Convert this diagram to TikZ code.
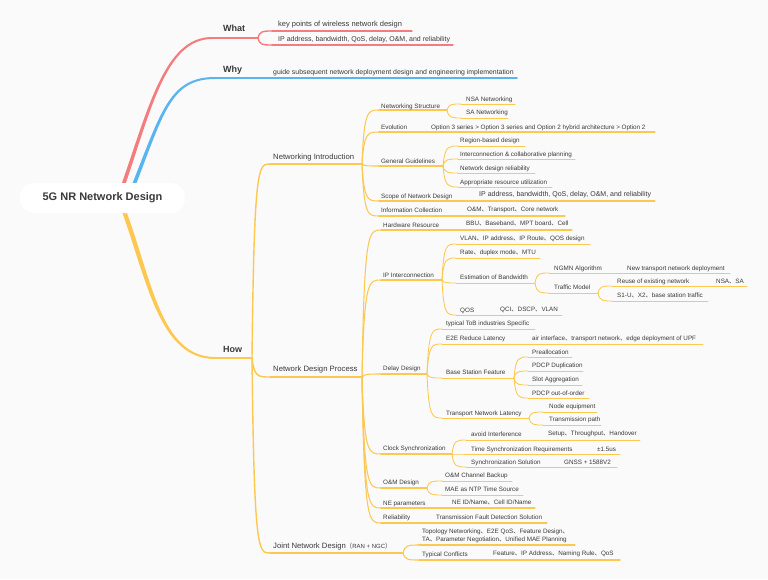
\documentclass[tikz,border=0pt]{standalone}
\usepackage{fontspec}
\setmainfont{Liberation Sans}
\newfontfamily\cjk{Noto Sans CJK SC}
\usetikzlibrary{calc}
\definecolor{bgc}{HTML}{FAFAFA}
\definecolor{redb}{HTML}{F47C7C}
\definecolor{blueb}{HTML}{5AB4F0}
\definecolor{yelb}{HTML}{FDC850}
\definecolor{txtc}{HTML}{3A3A3A}
\colorlet{branch}{yelb}
\newcommand\dn{{\cjk 、}}
\newcommand\conn[3][]{\draw[draw=branch,#1] let \p1=(#2), \p2=(#3) in (\p1) .. controls ({\x1+0.12*(\x2-\x1)},\y2) and ({\x1+0.35*(\x2-\x1)},\y2) .. (\p2);}
\newcommand\topic[9]{%
  \coordinate (#1-s) at (#4,#6);
  \coordinate (#1-e) at (#5,#6);
  \draw[#2] (#1-s) -- (#1-e);
  \node[#3] (#1) at (#7,#8) {#9};}
\tikzset{
  lbase/.style={draw=branch, line cap=round},
  lna/.style={lbase, line width=1.4pt},
  lnb/.style={lbase, line width=1.05pt},
  lnc/.style={lbase, line width=0.85pt},
  tbase/.style={anchor=base west, inner sep=0pt, text=txtc},
  txa/.style={tbase, font=\fontsize{7.7}{9}\selectfont, yshift=-2.6pt},
  txb/.style={tbase, font=\fontsize{6.3}{7.5}\selectfont, yshift=-2.2pt},
  txw/.style={tbase, font=\fontsize{7}{8}\selectfont, yshift=-2.4pt},
  txl/.style={tbase, font=\bfseries\fontsize{9}{11}\selectfont, yshift=-3.2pt},
  rootbox/.style={fill=white, rounded corners=14pt, minimum width=165pt, minimum height=30pt, inner sep=0pt, text=txtc, font=\bfseries\fontsize{11}{13}\selectfont},
}
\begin{document}
\begin{tikzpicture}[x=1pt,y=-1pt]
\useasboundingbox (0,0) rectangle (768,579);
\fill[bgc] (0,0) rectangle (768,579);

\coordinate (what-c) at (212,38);
\coordinate (what-e) at (258,38);
\coordinate (why-c) at (215,78);
\coordinate (why-e) at (517,78);
\coordinate (how-c) at (215,358);
\coordinate (how-e) at (252,358);

% main branches (tapered)
\fill[redb] (120.5,187) .. controls (148,110) and (164,37) .. (212,37) -- (212,39) .. controls (166,39) and (151,110) .. (124.5,187) -- cycle;
\draw[redb, line width=2pt, line cap=round] (what-c) -- (what-e);
\fill[blueb] (131,187) .. controls (161,112) and (169,77) .. (215,77) -- (215,79) .. controls (171,79) and (164,112) .. (135,187) -- cycle;
\draw[blueb, line width=1.7pt, line cap=round] (why-c) -- (why-e);
\fill[yelb] (121,209) .. controls (147,280) and (159,359) .. (215,359) -- (215,357) .. controls (161,357) and (152,280) .. (125.5,209) -- cycle;
\draw[yelb, line width=2pt, line cap=round] (how-c) -- (how-e);

\node[rootbox] (root) at (102.5,198) {5G NR Network Design};

\node[txl] (what) at (223,28) {What};
\node[txl] (why) at (223,69) {Why};
\node[txl] (how) at (223,349) {How};

% What
\begin{scope}
\colorlet{branch}{redb}
\topic{wa}{lna}{txw}{272}{412}{31}{278}{24}{\fontsize{7.5}{9}\selectfont key points of wireless network design}
\topic{wb}{lna}{txw}{272}{453}{45}{278}{39}{IP address, bandwidth, QoS, delay, O\&M, and reliability}
\conn[lna]{what-e}{wa-s}
\conn[lna]{what-e}{wb-s}
\end{scope}

% Why
\node[txw, font=\fontsize{6.9}{8}\selectfont] (whyt) at (273,72) {guide subsequent network deployment design and engineering implementation};

% How level 2
\topic{ni}{lna}{txa}{270}{362}{164}{273}{157}{Networking Introduction}
\topic{ndp}{lna}{txa}{270}{362}{377}{273}{369}{Network Design Process}
\topic{jn}{lna}{txa}{270}{403}{553}{273}{546}{Joint Network Design{\cjk\fontsize{6.3}{7}\selectfont （}{\fontsize{6}{7}\selectfont RAN + NGC}{\cjk\fontsize{6.3}{7}\selectfont ）}}
\conn[lna]{how-e}{ni-s}
\conn[lna]{how-e}{ndp-s}
\conn[lna]{how-e}{jn-s}

% Networking Introduction
\topic{ns}{lnb}{txb}{379}{447}{110}{381}{106}{Networking Structure}
\topic{nsa}{lnc}{txb}{461}{515}{104}{466}{99}{NSA Networking}
\topic{sa}{lnc}{txb}{461}{508}{118}{466}{112}{SA Networking}
\topic{evo}{lnb}{txb}{379}{655}{132}{381}{127}{Evolution}
\node[txb] (evox) at (431,127) {Option 3 series > Option 3 series and Option 2 hybrid architecture > Option 2};
\topic{gg}{lnb}{txb}{379}{443}{166}{381}{161}{General Guidelines}
\topic{gga}{lnc}{txb}{458}{525}{146}{460}{140}{Region-based design}
\topic{ggb}{lnc}{txb}{458}{575}{159}{460}{154}{Interconnection \& collaborative planning}
\topic{ggc}{lnc}{txb}{458}{535}{173}{460}{168}{Network design reliability}
\topic{ggd}{lnc}{txb}{458}{552}{187}{460}{182}{Appropriate resource utilization}
\topic{sc}{lnb}{txb}{379}{655}{201}{381}{196}{Scope of Network Design}
\node[txw] (scx) at (479,194) {IP address, bandwidth, QoS, delay, O\&M, and reliability};
\topic{ic}{lnb}{txb}{379}{565}{216}{381}{210}{Information Collection}
\node[txb] (icx) at (467,209) {O\&M\dn Transport\dn Core network};
\conn[lnb]{ni-e}{ns-s}
\conn[lnb]{ni-e}{evo-s}
\conn[lnb]{ni-e}{gg-s}
\conn[lnb]{ni-e}{sc-s}
\conn[lnb]{ni-e}{ic-s}
\conn[lnc]{ns-e}{nsa-s}
\conn[lnc]{ns-e}{sa-s}
\conn[lnc]{gg-e}{gga-s}
\conn[lnc]{gg-e}{ggb-s}
\conn[lnc]{gg-e}{ggc-s}
\conn[lnc]{gg-e}{ggd-s}

% Network Design Process
\topic{hw}{lnb}{txb}{381}{572}{230}{383}{225}{Hardware Resource}
\node[txb] (hwx) at (466,223) {BBU\dn Baseband\dn MPT board\dn Cell};
\topic{ip}{lnb}{txb}{381}{442}{280}{383}{275}{IP Interconnection}
\topic{ipa}{lnc}{txb}{456}{590}{244}{460}{238}{VLAN\dn IP address\dn IP Route\dn QOS design}
\topic{ipb}{lnc}{txb}{456}{540}{258}{460}{252}{Rate\dn duplex mode\dn MTU}
\topic{bw}{lnc}{txb}{456}{535}{283}{460}{277}{Estimation of Bandwidth}
\topic{ngmn}{lnc}{txb}{549}{730}{273}{554}{268}{NGMN Algorithm}
\node[txb] (ngmnx) at (627,268) {New transport network deployment};
\topic{tm}{lnc}{txb}{549}{598}{293}{554}{287}{Traffic Model}
\topic{reu}{lnc}{txb}{612}{747}{286}{617}{281}{Reuse of existing network}
\node[txb] (reux) at (716,281) {NSA\dn SA};
\topic{s1u}{lnc}{txb}{612}{708}{301}{617}{295}{S1-U\dn X2\dn base station traffic}
\topic{qos}{lnc}{txb}{456}{562}{315}{460}{310}{QOS}
\node[txb] (qosx) at (500,309) {QCI\dn DSCP\dn VLAN};

\topic{dd}{lnb}{txb}{381}{427}{374}{383}{368}{Delay Design}
\topic{tob}{lnc}{txb}{442}{535}{329}{446}{323}{typical ToB industries Specific}
\topic{e2e}{lnc}{txb}{442}{703}{344}{446}{338}{E2E Reduce Latency}
\node[txb] (e2ex) at (532,338) {air interface\dn transport network\dn edge deployment of UPF};
\topic{bsf}{lnc}{txb}{442}{514}{378}{446}{372}{Base Station Feature}
\topic{pre}{lnc}{txb}{528}{572}{357}{532}{352}{Preallocation}
\topic{pdcp}{lnc}{txb}{528}{583}{371}{532}{365}{PDCP Duplication}
\topic{slot}{lnc}{txb}{528}{582}{385}{532}{379}{Slot Aggregation}
\topic{ooo}{lnc}{txb}{528}{589}{398}{532}{393}{PDCP out-of-order}
\topic{tnl}{lnc}{txb}{442}{529}{418}{446}{413}{Transport Network Latency}
\topic{ndq}{lnc}{txb}{543}{597}{412}{549}{406}{Node equipment}
\topic{tp}{lnc}{txb}{543}{601}{425}{549}{419}{Transmission path}

\topic{clk}{lnb}{txb}{381}{452}{454}{383}{448}{Clock Synchronization}
\topic{ai}{lnc}{txb}{466}{640}{440}{471}{434}{avoid Interference}
\node[txb] (aix) at (548,433) {Setup\dn Throughput\dn Handover};
\topic{tsr}{lnc}{txb}{466}{620}{454}{471}{449}{Time Synchronization Requirements}
\node[txb] (tsrx) at (597,449) {±1.5us};
\topic{ss}{lnc}{txb}{466}{617}{467}{471}{462}{Synchronization Solution}
\node[txb] (ssx) at (564,462) {GNSS + 1588V2};

\topic{om}{lnb}{txb}{381}{427}{488}{383}{482}{O\&M Design}
\topic{omc}{lnc}{txb}{442}{512}{481}{445}{475}{O\&M Channel Backup}
\topic{mae}{lnc}{txb}{442}{523}{495}{445}{489}{MAE as NTP Time Source}
\topic{nep}{lnb}{txb}{381}{535}{508}{383}{503}{NE parameters}
\node[txb] (nepx) at (452,502) {NE ID/Name\dn Cell ID/Name};
\topic{rel}{lnb}{txb}{381}{547}{523}{383}{517}{Reliability}
\node[txb] (relx) at (436,517) {Transmission Fault Detection Solution};

\conn[lnb]{ndp-e}{hw-s}
\conn[lnb]{ndp-e}{ip-s}
\conn[lnb]{ndp-e}{dd-s}
\conn[lnb]{ndp-e}{clk-s}
\conn[lnb]{ndp-e}{om-s}
\conn[lnb]{ndp-e}{nep-s}
\conn[lnb]{ndp-e}{rel-s}
\conn[lnc]{ip-e}{ipa-s}
\conn[lnc]{ip-e}{ipb-s}
\conn[lnc]{ip-e}{bw-s}
\conn[lnc]{ip-e}{qos-s}
\conn[lnc]{bw-e}{ngmn-s}
\conn[lnc]{bw-e}{tm-s}
\conn[lnc]{tm-e}{reu-s}
\conn[lnc]{tm-e}{s1u-s}
\conn[lnc]{dd-e}{tob-s}
\conn[lnc]{dd-e}{e2e-s}
\conn[lnc]{dd-e}{bsf-s}
\conn[lnc]{dd-e}{tnl-s}
\conn[lnc]{bsf-e}{pre-s}
\conn[lnc]{bsf-e}{pdcp-s}
\conn[lnc]{bsf-e}{slot-s}
\conn[lnc]{bsf-e}{ooo-s}
\conn[lnc]{tnl-e}{ndq-s}
\conn[lnc]{tnl-e}{tp-s}
\conn[lnc]{clk-e}{ai-s}
\conn[lnc]{clk-e}{tsr-s}
\conn[lnc]{clk-e}{ss-s}
\conn[lnc]{om-e}{omc-s}
\conn[lnc]{om-e}{mae-s}

% Joint Network Design
\topic{topo}{lnb}{txb}{419}{575}{545}{422}{539}{TA\dn Parameter Negotiation\dn Unified MAE Planning}
\node[txb] (topoa) at (422,531) {Topology Networking\dn E2E QoS\dn Feature Design\dn};
\topic{tc}{lnb}{txb}{419}{620}{560}{422}{554}{Typical Conflicts}
\node[txb] (tcx) at (493,553) {Feature\dn IP Address\dn Naming Rule\dn QoS};
\conn[lnb]{jn-e}{topo-s}
\conn[lnb]{jn-e}{tc-s}
\end{tikzpicture}
\end{document}
